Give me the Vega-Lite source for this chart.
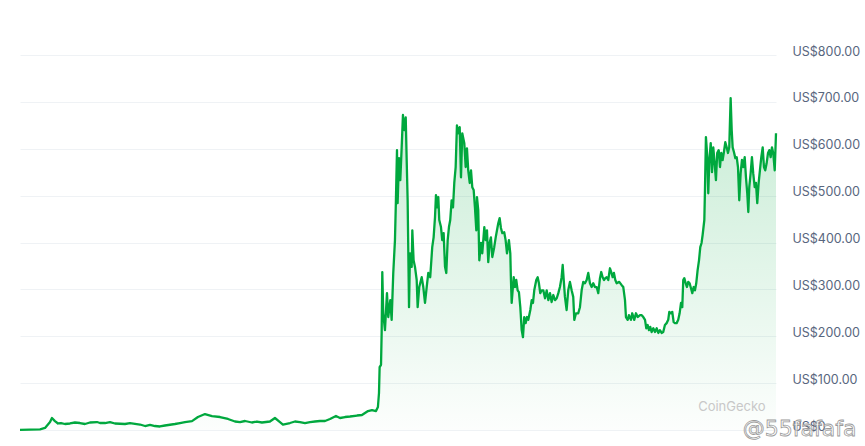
{
  "$schema": "https://vega.github.io/schema/vega-lite/v6.json",
  "width": 756,
  "height": 375,
  "autosize": {"type": "none"},
  "padding": {"left": 20, "top": 55, "right": 89, "bottom": 16},
  "background": "white",
  "config": {"view": {"stroke": null}},
  "data": {"values": [
    {"t":2017.710,"p":0.3},{"t":2017.898,"p":1.5},{"t":2017.945,"p":4.3},{"t":2017.992,"p":17},{"t":2018.010,"p":25.6},{"t":2018.038,"p":19},{"t":2018.067,"p":13.9},{"t":2018.095,"p":14.9},{"t":2018.132,"p":12.8},{"t":2018.179,"p":13.9},{"t":2018.226,"p":16},{"t":2018.273,"p":14.9},{"t":2018.320,"p":12.8},{"t":2018.367,"p":16},{"t":2018.433,"p":17},{"t":2018.461,"p":14.9},{"t":2018.508,"p":14.9},{"t":2018.555,"p":17},{"t":2018.602,"p":13.9},{"t":2018.696,"p":12.8},{"t":2018.743,"p":14.9},{"t":2018.837,"p":11.7},{"t":2018.884,"p":8.5},{"t":2018.931,"p":10.7},{"t":2018.977,"p":8.5},{"t":2019.024,"p":7.5},{"t":2019.071,"p":9.6},{"t":2019.165,"p":12.8},{"t":2019.212,"p":14.9},{"t":2019.259,"p":17},{"t":2019.325,"p":19},{"t":2019.381,"p":27.7},{"t":2019.447,"p":34},{"t":2019.513,"p":29.8},{"t":2019.588,"p":27.7},{"t":2019.663,"p":23.5},{"t":2019.729,"p":18.1},{"t":2019.776,"p":17},{"t":2019.823,"p":19.2},{"t":2019.888,"p":16},{"t":2019.935,"p":18.1},{"t":2019.982,"p":16},{"t":2020.057,"p":18.1},{"t":2020.104,"p":25.6},{"t":2020.151,"p":17},{"t":2020.179,"p":11.7},{"t":2020.245,"p":14.9},{"t":2020.292,"p":18.1},{"t":2020.339,"p":17},{"t":2020.386,"p":14.9},{"t":2020.433,"p":17},{"t":2020.480,"p":18.1},{"t":2020.527,"p":19.2},{"t":2020.574,"p":19.2},{"t":2020.621,"p":23.5},{"t":2020.677,"p":29.8},{"t":2020.715,"p":25.6},{"t":2020.762,"p":27.7},{"t":2020.809,"p":28.8},{"t":2020.875,"p":30.9},{"t":2020.921,"p":32},{"t":2020.978,"p":40.5},{"t":2021.015,"p":42.6},{"t":2021.053,"p":40.5},{"t":2021.071,"p":49},
    {"t":2021.081,"p":79},{"t":2021.087,"p":134},{"t":2021.100,"p":139},{"t":2021.106,"p":207},{"t":2021.112,"p":337},{"t":2021.121,"p":249},{"t":2021.137,"p":213},{"t":2021.156,"p":292},{"t":2021.168,"p":241},{"t":2021.187,"p":277},{"t":2021.200,"p":235},{"t":2021.215,"p":335},{"t":2021.231,"p":405},{"t":2021.240,"p":490},{"t":2021.250,"p":597},{"t":2021.256,"p":484},{"t":2021.269,"p":580},{"t":2021.281,"p":533},{"t":2021.294,"p":603},{"t":2021.306,"p":672},{"t":2021.318,"p":640},{"t":2021.332,"p":667},{"t":2021.341,"p":576},{"t":2021.350,"p":490},{"t":2021.363,"p":262},{"t":2021.372,"p":377},{"t":2021.388,"p":348},{"t":2021.394,"p":426},{"t":2021.406,"p":362},{"t":2021.419,"p":348},{"t":2021.435,"p":320},{"t":2021.444,"p":262},{"t":2021.459,"p":305},{"t":2021.482,"p":326},{"t":2021.497,"p":305},{"t":2021.513,"p":271},{"t":2021.529,"p":305},{"t":2021.544,"p":335},{"t":2021.562,"p":326},{"t":2021.581,"p":390},{"t":2021.594,"p":411},{"t":2021.607,"p":454},{"t":2021.616,"p":501},{"t":2021.625,"p":475},{"t":2021.638,"p":497},{"t":2021.647,"p":448},{"t":2021.663,"p":433},{"t":2021.675,"p":405},{"t":2021.688,"p":420},{"t":2021.701,"p":348},{"t":2021.713,"p":335},{"t":2021.726,"p":405},{"t":2021.738,"p":433},{"t":2021.750,"p":448},{"t":2021.763,"p":490},{"t":2021.776,"p":475},{"t":2021.788,"p":527},{"t":2021.801,"p":561},{"t":2021.813,"p":650},{"t":2021.825,"p":633},{"t":2021.839,"p":646},{"t":2021.851,"p":539},{"t":2021.863,"p":633},{"t":2021.882,"p":612},{"t":2021.895,"p":561},{"t":2021.907,"p":601},{"t":2021.919,"p":554},{"t":2021.933,"p":527},{"t":2021.945,"p":554},{"t":2021.957,"p":518},{"t":2021.970,"p":512},{"t":2021.982,"p":475},{"t":2021.995,"p":426},{"t":2022.001,"p":497},{"t":2022.013,"p":469},{"t":2022.023,"p":362},{"t":2022.039,"p":399},{"t":2022.051,"p":377},{"t":2022.070,"p":433},{"t":2022.083,"p":405},{"t":2022.095,"p":426},{"t":2022.107,"p":358},{"t":2022.120,"p":399},{"t":2022.132,"p":411},{"t":2022.145,"p":369},{"t":2022.163,"p":390},{"t":2022.177,"p":411},{"t":2022.189,"p":426},{"t":2022.201,"p":441},{"t":2022.214,"p":452},{"t":2022.226,"p":431},{"t":2022.239,"p":420},{"t":2022.257,"p":422},{"t":2022.270,"p":405},{"t":2022.283,"p":377},{"t":2022.301,"p":405},{"t":2022.314,"p":377},{"t":2022.320,"p":320},{"t":2022.327,"p":271},{"t":2022.336,"p":298},{"t":2022.346,"p":326},{"t":2022.358,"p":305},{"t":2022.370,"p":320},{"t":2022.383,"p":298},{"t":2022.395,"p":294},{"t":2022.408,"p":262},{"t":2022.421,"p":213},{"t":2022.433,"p":198},{"t":2022.445,"p":241},{"t":2022.458,"p":228},{"t":2022.471,"p":241},{"t":2022.483,"p":235},{"t":2022.502,"p":256},{"t":2022.515,"p":277},{"t":2022.527,"p":271},{"t":2022.539,"p":298},{"t":2022.558,"p":320},{"t":2022.571,"p":326},{"t":2022.583,"p":313},{"t":2022.595,"p":292},{"t":2022.609,"p":298},{"t":2022.624,"p":298},{"t":2022.640,"p":281},{"t":2022.656,"p":298},{"t":2022.671,"p":277},{"t":2022.687,"p":292},{"t":2022.702,"p":273},{"t":2022.718,"p":288},{"t":2022.734,"p":277},{"t":2022.750,"p":281},{"t":2022.765,"p":292},{"t":2022.780,"p":305},{"t":2022.796,"p":326},{"t":2022.806,"p":352},{"t":2022.818,"p":313},{"t":2022.827,"p":284},{"t":2022.843,"p":256},{"t":2022.858,"p":298},{"t":2022.874,"p":316},{"t":2022.890,"p":298},{"t":2022.905,"p":284},{"t":2022.915,"p":235},{"t":2022.931,"p":249},{"t":2022.952,"p":249},{"t":2022.968,"p":262},{"t":2022.984,"p":298},{"t":2022.999,"p":316},{"t":2023.015,"p":313},{"t":2023.031,"p":320},{"t":2023.046,"p":335},{"t":2023.062,"p":313},{"t":2023.078,"p":305},{"t":2023.093,"p":313},{"t":2023.109,"p":305},{"t":2023.125,"p":305},{"t":2023.140,"p":292},{"t":2023.156,"p":324},{"t":2023.168,"p":337},{"t":2023.181,"p":326},{"t":2023.194,"p":320},{"t":2023.206,"p":324},{"t":2023.219,"p":326},{"t":2023.234,"p":320},{"t":2023.250,"p":345},{"t":2023.262,"p":337},{"t":2023.275,"p":326},{"t":2023.287,"p":335},{"t":2023.300,"p":320},{"t":2023.313,"p":313},{"t":2023.337,"p":316},{"t":2023.360,"p":309},{"t":2023.375,"p":305},{"t":2023.391,"p":277},{"t":2023.400,"p":241},{"t":2023.416,"p":235},{"t":2023.428,"p":245},{"t":2023.447,"p":235},{"t":2023.459,"p":249},{"t":2023.478,"p":235},{"t":2023.494,"p":249},{"t":2023.510,"p":241},{"t":2023.532,"p":245},{"t":2023.548,"p":245},{"t":2023.563,"p":241},{"t":2023.579,"p":235},{"t":2023.591,"p":217},{"t":2023.604,"p":224},{"t":2023.616,"p":213},{"t":2023.628,"p":220},{"t":2023.641,"p":209},{"t":2023.657,"p":217},{"t":2023.673,"p":209},{"t":2023.689,"p":217},{"t":2023.704,"p":207},{"t":2023.719,"p":213},{"t":2023.735,"p":207},{"t":2023.750,"p":209},{"t":2023.766,"p":224},{"t":2023.782,"p":228},{"t":2023.797,"p":235},{"t":2023.807,"p":252},{"t":2023.823,"p":249},{"t":2023.835,"p":252},{"t":2023.848,"p":230},{"t":2023.860,"p":228},{"t":2023.876,"p":228},{"t":2023.891,"p":235},{"t":2023.904,"p":249},{"t":2023.917,"p":271},{"t":2023.929,"p":262},{"t":2023.938,"p":320},{"t":2023.948,"p":324},{"t":2023.961,"p":313},{"t":2023.973,"p":305},{"t":2023.985,"p":316},{"t":2023.998,"p":313},{"t":2024.010,"p":303},{"t":2024.023,"p":292},{"t":2024.036,"p":305},{"t":2024.048,"p":298},{"t":2024.060,"p":313},{"t":2024.073,"p":341},{"t":2024.086,"p":362},{"t":2024.098,"p":390},{"t":2024.110,"p":399},{"t":2024.120,"p":416},{"t":2024.136,"p":448},{"t":2024.142,"p":512},{"t":2024.151,"p":625},{"t":2024.164,"p":582},{"t":2024.173,"p":505},{"t":2024.182,"p":569},{"t":2024.196,"p":612},{"t":2024.208,"p":550},{"t":2024.220,"p":603},{"t":2024.233,"p":569},{"t":2024.245,"p":533},{"t":2024.257,"p":591},{"t":2024.271,"p":597},{"t":2024.283,"p":561},{"t":2024.295,"p":591},{"t":2024.308,"p":576},{"t":2024.320,"p":593},{"t":2024.333,"p":614},{"t":2024.346,"p":603},{"t":2024.358,"p":591},{"t":2024.370,"p":603},{"t":2024.383,"p":708},{"t":2024.393,"p":640},{"t":2024.402,"p":603},{"t":2024.414,"p":593},{"t":2024.427,"p":580},{"t":2024.440,"p":582},{"t":2024.452,"p":561},{"t":2024.464,"p":490},{"t":2024.477,"p":548},{"t":2024.489,"p":576},{"t":2024.502,"p":561},{"t":2024.515,"p":582},{"t":2024.527,"p":539},{"t":2024.539,"p":505},{"t":2024.549,"p":465},{"t":2024.558,"p":518},{"t":2024.571,"p":548},{"t":2024.583,"p":582},{"t":2024.595,"p":548},{"t":2024.609,"p":518},{"t":2024.621,"p":527},{"t":2024.633,"p":484},{"t":2024.646,"p":527},{"t":2024.658,"p":554},{"t":2024.671,"p":582},{"t":2024.684,"p":603},{"t":2024.696,"p":561},{"t":2024.708,"p":554},{"t":2024.721,"p":569},{"t":2024.734,"p":591},{"t":2024.746,"p":597},{"t":2024.759,"p":582},{"t":2024.771,"p":603},{"t":2024.783,"p":591},{"t":2024.797,"p":554},{"t":2024.809,"p":633}
  ]},
  "encoding": {
    "x": {"field": "t", "type": "quantitative", "axis": null,
          "scale": {"domain": [2017.71, 2024.809], "nice": false, "zero": false}},
    "y": {"field": "p", "type": "quantitative",
          "scale": {"domain": [0, 800], "nice": false},
          "axis": {"orient": "right", "title": null, "values": [0,100,200,300,400,500,600,700,800],
                   "grid": true, "gridColor": "#eff2f5", "gridWidth": 1, "domain": false, "ticks": false,
                   "labelPadding": 16, "labelOffset": -4, "labelFont": "Inter", "labelFontSize": 12.5,
                   "labelColor": "#58667e",
                   "labelExpr": "datum.value == 0 ? 'US$0' : 'US$' + format(datum.value, ',.2f')"}}
  },
  "layer": [
    {"mark": {"type": "area", "interpolate": "linear",
              "color": {"gradient": "linear", "x1": 0, "y1": 0, "x2": 0, "y2": 1,
                        "stops": [{"offset": 0, "color": "rgba(0,168,62,0.22)"},
                                  {"offset": 1, "color": "rgba(0,168,62,0.01)"}]}}},
    {"mark": {"type": "line", "interpolate": "linear", "color": "#00a83e", "strokeWidth": 2.3, "strokeJoin": "round"}},
    {"data": {"values": [{"t": 2024.395, "p": 49, "label": "CoinGecko"}]},
     "mark": {"type": "text", "font": "Inter", "fontSize": 13, "color": "#c8c8c8", "align": "center", "baseline": "middle"},
     "encoding": {"text": {"field": "label"}, "x": {"field": "t", "type": "quantitative"}, "y": {"field": "p", "type": "quantitative"}}},
    {"data": {"values": [{"t": 2025.03, "p": 3, "label": "@55fafafa"}]},
     "mark": {"type": "text", "font": "DejaVu Sans", "fontSize": 22, "fill": "rgba(255,255,255,0.6)", "stroke": "#9a9a9a", "strokeWidth": 0.8, "align": "center", "baseline": "middle"},
     "encoding": {"text": {"field": "label"}, "x": {"field": "t", "type": "quantitative"}, "y": {"field": "p", "type": "quantitative"}}}
  ]
}
